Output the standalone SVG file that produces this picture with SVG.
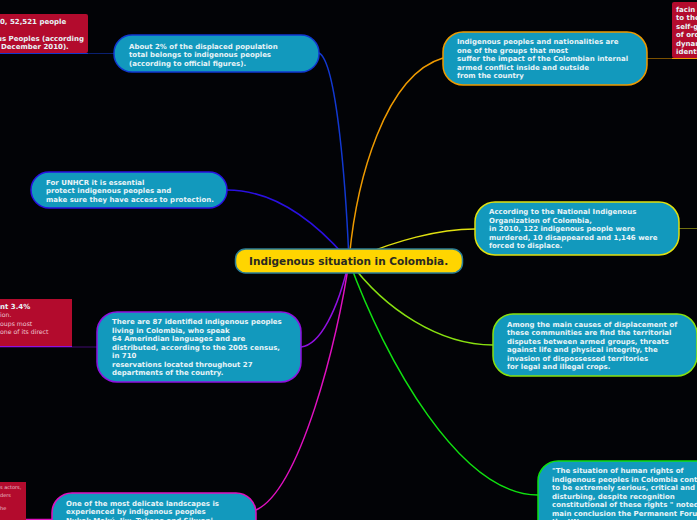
<svg xmlns="http://www.w3.org/2000/svg" width="697" height="520" viewBox="0 0 697 520">
<style>
text{font-family:"DejaVu Sans",sans-serif;font-weight:700;font-size:7px;fill:#e8f4f8}
.n{fill:#1299bd;stroke-width:1.5}
.r{fill:#b30b2d}
.s{font-size:6.2px;fill:#ecc4cd;font-weight:400}
.t{font-size:5px;fill:#ecc4cd;font-weight:400}
.c{fill:none;stroke-width:1.5}
</style>
<rect width="697" height="520" fill="#020306"/>
<g id="connectors">
<path class="c" stroke="#1238d0" d="M349 261C346 190 337 62 319 53"/>
<path class="c" stroke="#2a10e0" d="M349 261C316 222 275 190 227 190"/>
<path class="c" stroke="#ee9a00" d="M349 261C356 180 385 75 443 58"/>
<path class="c" stroke="#e0e010" d="M349 261C395 240 440 229 475 229"/>
<path class="c" stroke="#88e010" d="M349 261C385 310 440 345 493 345"/>
<path class="c" stroke="#10e010" d="M349 261C385 360 460 495 538 495"/>
<path class="c" stroke="#9010e0" d="M349 261C338 310 320 345 301 347"/>
<path class="c" stroke="#e010c0" d="M349 261C338 340 300 490 256 510"/>
<path stroke="#0a2070" d="M88 53.500H114"/>
<path stroke="#1238d0" d="M0 53.500H88"/>
<path stroke="#7a5000" d="M647 58.500H672"/>
<path stroke="#ee9a00" d="M672 58.500H697"/>
<path stroke="#707010" d="M679 228.500H697"/>
<path stroke="#400a70" d="M72 347H97"/>
<path stroke="#9010e0" stroke-width="1.500" d="M0 346.500H72"/>
<path stroke="#e010c0" stroke-width="1.500" d="M0 519.500H52"/>
</g>
<g id="red1"><rect class="r" x="-40" y="14" width="128" height="39" rx="2"/><text x="0" y="24">0, 52,521 people</text><text x="-3" y="41">us Peoples (according</text><text x="1" y="49">December 2010).</text></g>
<g id="red2"><rect class="r" x="672" y="2" width="40" height="56" rx="2"/><text x="676" y="12">facin</text><text x="676" y="20">to the</text><text x="676" y="29">self-g</text><text x="676" y="37">of ord</text><text x="676" y="46">dynan</text><text x="676" y="54">identi</text></g>
<g id="red3"><rect class="r" x="-40" y="299" width="112" height="47"/><text x="0" y="309">nt 3.4%</text><text class="s" x="0" y="317">ion.</text><text class="s" x="0" y="326">oups most</text><text class="s" x="0" y="334">one of its direct</text></g>
<g id="red4"><rect class="r" x="-40" y="482" width="66" height="38"/><text class="t" x="0" y="489">s actors,</text><text class="t" x="0" y="497">ders</text><text class="t" x="0" y="510">he</text></g>
<g id="n1"><rect class="n" stroke="#1238d0" x="114" y="35" width="205" height="37" rx="18"/><text x="129" y="49">About 2% of the displaced population</text><text x="129" y="57">total belongs to indigenous peoples</text><text x="129" y="66">(according to official figures).</text></g>
<g id="n2"><rect class="n" stroke="#2a10e0" x="31" y="172" width="196" height="36" rx="18"/><text x="46" y="185">For UNHCR it is essential</text><text x="46" y="193">protect indigenous peoples and</text><text x="46" y="202">make sure they have access to protection.</text></g>
<g id="n3"><rect class="n" stroke="#ee9a00" x="443" y="32" width="204" height="53" rx="20"/><text x="457" y="44">Indigenous peoples and nationalities are</text><text x="457" y="53">one of the groups that most</text><text x="457" y="61">suffer the impact of the Colombian internal</text><text x="457" y="70">armed conflict inside and outside</text><text x="457" y="78">from the country</text></g>
<g id="n4"><rect class="n" stroke="#e0e010" x="475" y="202" width="204" height="53" rx="20"/><text x="489" y="214">According to the National Indigenous</text><text x="489" y="223">Organization of Colombia,</text><text x="489" y="231">in 2010, 122 indigenous people were</text><text x="489" y="240">murdered, 10 disappeared and 1,146 were</text><text x="489" y="248">forced to displace.</text></g>
<g id="n5"><rect class="n" stroke="#88e010" x="493" y="314" width="204" height="62" rx="20"/><text x="507" y="327">Among the main causes of displacement of</text><text x="507" y="335">these communities are find the territorial</text><text x="507" y="344">disputes between armed groups, threats</text><text x="507" y="352">against life and physical integrity, the</text><text x="507" y="361">invasion of dispossessed territories</text><text x="507" y="369">for legal and illegal crops.</text></g>
<g id="n6"><rect class="n" stroke="#10e010" x="538" y="461" width="204" height="90" rx="20"/><text x="552" y="473">"The situation of human rights of</text><text x="552" y="482">indigenous peoples in Colombia cont</text><text x="552" y="490">to be extremely serious, critical and c</text><text x="552" y="499">disturbing, despite recognition</text><text x="552" y="507">constitutional of these rights " noted</text><text x="552" y="516">main conclusion the Permanent Foru</text><text x="552" y="524">the UN</text></g>
<g id="n7"><rect class="n" stroke="#9010e0" x="97" y="312" width="204" height="70" rx="20"/><text x="112" y="324">There are 87 identified indigenous peoples</text><text x="112" y="333">living in Colombia, who speak</text><text x="112" y="341">64 Amerindian languages and are</text><text x="112" y="350">distributed, according to the 2005 census,</text><text x="112" y="358">in 710</text><text x="112" y="367">reservations located throughout 27</text><text x="112" y="375">departments of the country.</text></g>
<g id="n8"><rect class="n" stroke="#e010c0" x="52" y="493" width="204" height="70" rx="20"/><text x="66" y="506">One of the most delicate landscapes is</text><text x="66" y="514">experienced by indigenous peoples</text><text x="66" y="523">Nukak Makú, Jiw, Tukano and Sikuani</text></g>
<g id="root"><rect x="235.500" y="249" width="227" height="24" rx="10" fill="#ffd500" stroke="#2c7f96" stroke-width="1.500"/><text x="249" y="265" style="font-size:10.500px;fill:#2a2a20">Indigenous situation in Colombia.</text></g>
</svg>
